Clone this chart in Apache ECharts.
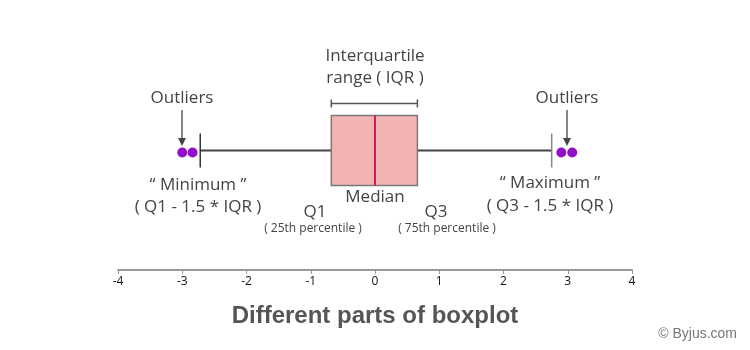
<!DOCTYPE html>
<html>
<head>
<meta charset="utf-8">
<script src="https://cdn.jsdelivr.net/npm/echarts@6/dist/echarts.min.js"></script>
<style>html,body{margin:0;padding:0;background:#fff}#c{width:750px;height:350px}</style>
</head>
<body>
<div id="c"></div>
<script>
// ---- data ----
var categories = ['boxplot'];
// [Q1, median, Q3, whisker low ("Minimum"), whisker high ("Maximum")]
var boxValues = [-0.68, 0.0, 0.66, -2.72, 2.75];
var outlierValues = [-3.0, -2.84, 2.9, 3.07];
var tickMin = -4, tickMax = 4, tickStep = 1;
var titleText = 'Different parts of boxplot';
var creditText = '\u00A9 Byjus.com';
var annotationTexts = {
  iqr1: 'Interquartile', iqr2: 'range ( IQR )',
  outL: 'Outliers', outR: 'Outliers',
  min1: '\u201C Minimum \u201D', min2: '( Q1 - 1.5 * IQR )',
  max1: '\u201C Maximum \u201D', max2: '( Q3 - 1.5 * IQR )',
  median: 'Median', q1: 'Q1', q1s: '( 25th percentile )',
  q3: 'Q3', q3s: '( 75th percentile )'
};

// ---- layout / style ----
var FONT = '"Open Sans", sans-serif';
var TXT = '#444';
var chart = echarts.init(document.getElementById('c'));

function txt(t, x, y, size, extra) {
  var s = {text: t, x: x, y: y, fill: TXT, font: size + 'px ' + FONT, textAlign: 'center', textVerticalAlign: 'middle'};
  if (extra) for (var k in extra) s[k] = extra[k];
  return {type: 'text', style: s, z: 10};
}
function arrow(x, y1, y2) {
  return {type: 'group', z: 10, children: [
    {type: 'line', shape: {x1: x, y1: y1, x2: x, y2: y2 - 6}, style: {stroke: '#444', lineWidth: 1.3}},
    {type: 'polygon', shape: {points: [[x - 4, y2 - 8], [x + 4, y2 - 8], [x, y2]]}, style: {fill: '#444'}}
  ]};
}

var A = annotationTexts;
var graphics = [
  txt(A.iqr1, 375, 56, 17), txt(A.iqr2, 375, 78, 17),
  txt(A.outL, 182, 98, 17), txt(A.outR, 567, 98, 17),
  arrow(182, 110, 146), arrow(567, 110, 146),
  txt(A.min1, 198, 185, 17), txt(A.min2, 198, 207, 17),
  txt(A.max1, 550, 183, 17), txt(A.max2, 550, 206, 17),
  txt(A.median, 375, 197, 17),
  txt(A.q1, 315, 212, 17), txt(A.q1s, 313, 229, 12),
  txt(A.q3, 436, 212, 17), txt(A.q3s, 447, 229, 12),
  txt(titleText, 375, 316, 24, {font: 'bold 24px "Liberation Sans", Arial, sans-serif', fill: '#555'}),
  txt(creditText, 737, 334, 14, {font: '14px "Liberation Sans", Arial, sans-serif', fill: '#777', textAlign: 'right'})
];

chart.setOption({
  animation: false,
  grid: {left: 118, right: 118, top: 31, bottom: 80},
  xAxis: {
    type: 'value', min: tickMin, max: tickMax, interval: tickStep,
    axisLine: {show: true, onZero: false, lineStyle: {color: '#999', width: 2}},
    axisTick: {show: true, length: 4, lineStyle: {color: '#999'}},
    axisLabel: {color: '#111', fontSize: 12, fontFamily: FONT, margin: 6},
    splitLine: {show: false}
  },
  yAxis: {type: 'category', data: categories, show: false},
  graphic: graphics,
  series: [
    {
      type: 'custom',
      data: [[0].concat(boxValues)],
      renderItem: function (params, api) {
        var q1 = api.coord([api.value(1), 0]);
        var med = api.coord([api.value(2), 0]);
        var q3 = api.coord([api.value(3), 0]);
        var lo = api.coord([api.value(4), 0]);
        var hi = api.coord([api.value(5), 0]);
        var cy = q1[1];
        var hb = 35, hc = 17, by = cy - 47;
        return {type: 'group', children: [
          {type: 'line', shape: {x1: lo[0], y1: cy, x2: q1[0], y2: cy}, style: {stroke: '#444', lineWidth: 2}},
          {type: 'line', shape: {x1: q3[0], y1: cy, x2: hi[0], y2: cy}, style: {stroke: '#444', lineWidth: 2}},
          {type: 'line', shape: {x1: lo[0], y1: cy - hc, x2: lo[0], y2: cy + hc}, style: {stroke: '#333', lineWidth: 1.5}},
          {type: 'line', shape: {x1: hi[0], y1: cy - hc, x2: hi[0], y2: cy + hc}, style: {stroke: '#888', lineWidth: 1.5}},
          {type: 'rect', shape: {x: q1[0], y: cy - hb, width: q3[0] - q1[0], height: 2 * hb}, style: {fill: '#f2b3b3', stroke: '#7a7a7a', lineWidth: 1.5}},
          {type: 'line', shape: {x1: med[0], y1: cy - hb, x2: med[0], y2: cy + hb}, style: {stroke: '#dc1558', lineWidth: 2}},
          {type: 'line', shape: {x1: q1[0], y1: by, x2: q3[0], y2: by}, style: {stroke: '#555', lineWidth: 1.5}},
          {type: 'line', shape: {x1: q1[0], y1: by - 4, x2: q1[0], y2: by + 4}, style: {stroke: '#555', lineWidth: 1.5}},
          {type: 'line', shape: {x1: q3[0], y1: by - 4, x2: q3[0], y2: by + 4}, style: {stroke: '#555', lineWidth: 1.5}}
        ]};
      }
    },
    {
      type: 'scatter',
      data: outlierValues.map(function (v) { return [v, categories[0]]; }),
      symbol: 'circle', symbolSize: 10, symbolOffset: [0, 2],
      itemStyle: {color: '#9410c8', opacity: 1}, z: 5
    }
  ]
});
</script>
</body>
</html>
